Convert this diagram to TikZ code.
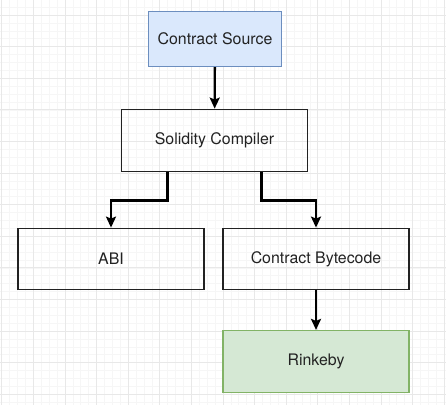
\documentclass[tikz,border=0pt]{standalone}
\usepackage{fontspec}
\setmainfont{TeX Gyre Heros}
\usetikzlibrary{calc,arrows.meta}
\definecolor{gridmajor}{HTML}{E8E8E8}
\definecolor{gridminor}{HTML}{F6F6F6}
\definecolor{boxline}{HTML}{222222}
\definecolor{sourcefill}{HTML}{DAE8FC}
\definecolor{sourceline}{HTML}{6C8EBF}
\definecolor{netfill}{HTML}{D5E8D4}
\definecolor{netline}{HTML}{82B366}

\begin{document}
\begin{tikzpicture}[x=1pt,y=-1pt]

\tikzset{box/.style={draw=boxline,line width=1.8pt,minimum width=186pt,minimum height=61pt,
                     inner sep=0pt,text=boxline,font=\fontsize{15.9}{18}\selectfont}}
\tikzset{flow/.style={draw=black,line width=2.3pt,-{Stealth[length=11pt,width=10pt,inset=2pt]}}}

\useasboundingbox (0,0) rectangle (446,405);
\fill[white] (0,0) rectangle (446,405);

% grid behind the boxes
\foreach \i in {0,...,56} {
  \draw[gridminor,line width=0.5pt] (1.7+7.9*\i,0) -- (1.7+7.9*\i,405);
  \draw[gridminor,line width=0.5pt] (0,-16.6+7.9*\i) -- (446,-16.6+7.9*\i);
}
\foreach \i in {0,...,14} {
  \draw[gridmajor,line width=0.8pt] (1.7+31.6*\i,0) -- (1.7+31.6*\i,405);
  \draw[gridmajor,line width=0.8pt] (0,15+31.6*\i) -- (446,15+31.6*\i);
}

\node[box,draw=sourceline,line width=1.2pt,fill=sourcefill,minimum width=133pt,minimum height=55pt]
      (source) at (215,39) {Contract Source};
\node[box,minimum height=62pt] (compiler) at (214.5,140.5) {Solidity Compiler};
\node[box] (abi)      at (111,259)   {ABI};
\node[box] (bytecode) at (316,259)   {Contract Bytecode};
\node[box,draw=netline,line width=1.2pt,fill=netfill,minimum height=62pt]
      (rinkeby) at (316,361.5) {Rinkeby};

\coordinate (left out)  at ($(compiler.south west)!.25!(compiler.south east)$);
\coordinate (right out) at ($(compiler.south west)!.75!(compiler.south east)$);

\draw[flow] (source) -- (compiler);
\draw[flow] (left out) -- ++(0,28) -| (abi.north);
\draw[flow] (right out) -- ++(0,28) -| (bytecode.north);
\draw[flow] (bytecode) -- (rinkeby);

\end{tikzpicture}
\end{document}
